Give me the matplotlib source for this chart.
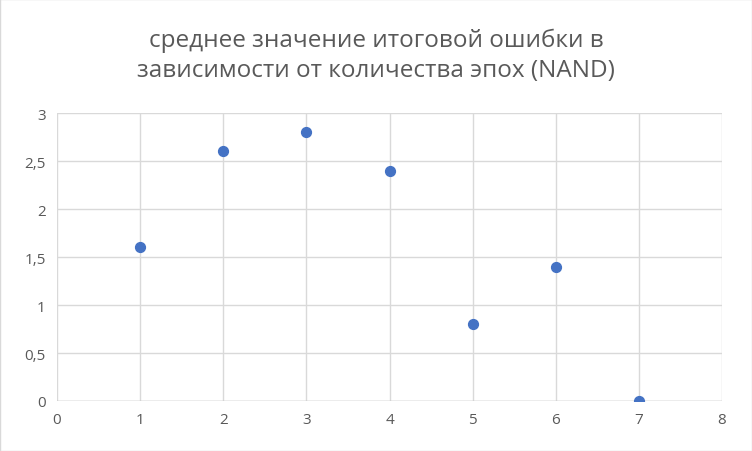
import matplotlib
matplotlib.use("Agg")
import matplotlib.pyplot as plt

epochs = [1, 2, 3, 4, 5, 6, 7]
errors = [1.6, 2.6, 2.8, 2.4, 0.8, 1.4, 0.0]
xticks = [0, 1, 2, 3, 4, 5, 6, 7, 8]
yticks = [0, 0.5, 1, 1.5, 2, 2.5, 3]
ylabels = ["0", "0,5", "1", "1,5", "2", "2,5", "3"]
title = "среднее значение итоговой ошибки в\nзависимости от количества эпох (NAND)"

plt.rcParams['font.family'] = ['Open Sans', 'DejaVu Sans']
fig = plt.figure(figsize=(7.52, 4.52), dpi=100)
fig.patches.append(plt.Rectangle((0, 0), 1, 1, transform=fig.transFigure,
                                 fill=False, edgecolor='#d9d9d9', lw=1))
ax = fig.add_axes([57/752, 50/452, 665/752, 288/452])
ax.scatter(epochs, errors, s=50, color='#4472c4', zorder=3)
ax.set_xlim(0, 8)
ax.set_ylim(0, 3)
ax.set_xticks(xticks)
ax.set_yticks(yticks)
ax.set_yticklabels(ylabels)
ax.grid(True, color='#d9d9d9', lw=1)
for s in ax.spines.values():
    s.set_visible(False)
ax.axhline(0, color='#bfbfbf', lw=1, zorder=2)
ax.tick_params(length=0, labelsize=11, colors='#595959', pad=8)
fig.text(0.5, 452/452 - 56/452, title, ha='center', va='center', fontsize=17.5,
         color='#595959', linespacing=1.3)
fig.savefig("out.png", dpi=100)
